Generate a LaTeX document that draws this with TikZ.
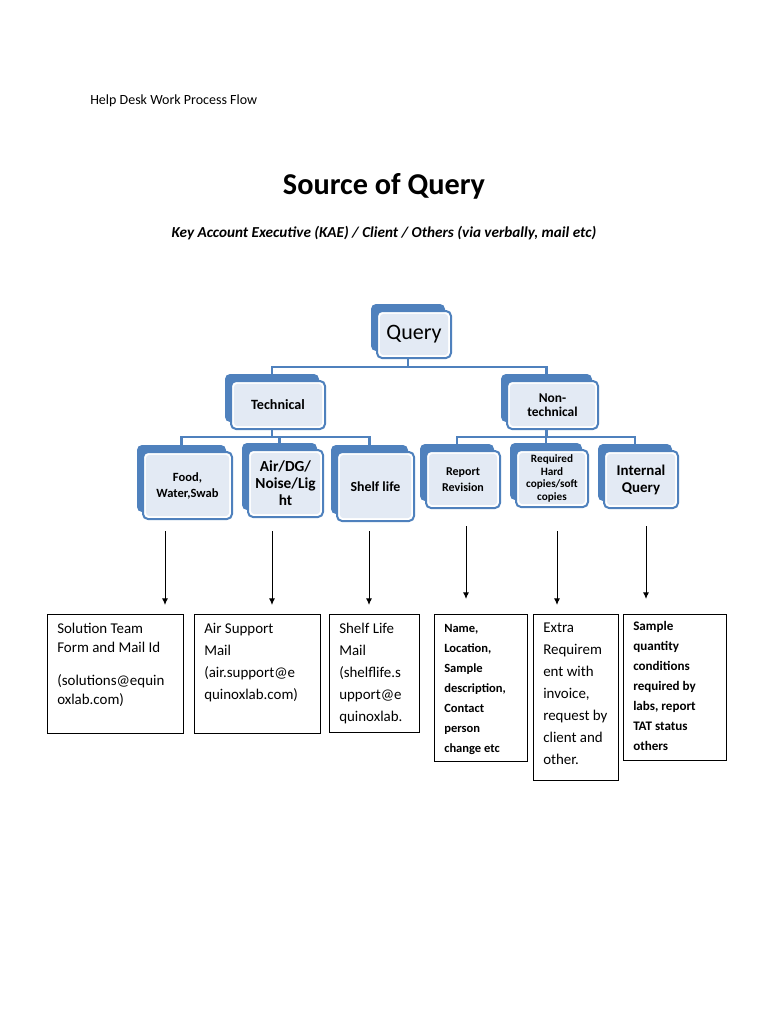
\documentclass[tikz,border=0pt]{standalone}
\usepackage{fontspec}
\setmainfont{Carlito}
\usetikzlibrary{arrows.meta,calc}
\definecolor{qblue}{HTML}{4F81BD}
\definecolor{qlight}{HTML}{E3EAF4}
\newcommand{\fs}[2]{\fontsize{#1}{#2}\selectfont}
\tikzset{
  backbox/.style={fill=qblue, rounded corners=3.75pt, inner sep=0pt, draw=none},
  frontbox/.style={draw=qblue, line width=1.5pt, rounded corners=3.75pt, fill=white,
    inner sep=1pt, align=center,
    path picture={\fill[qlight, rounded corners=2.5pt]
      ([shift={(2.2pt,-2.2pt)}]path picture bounding box.north west) rectangle
      ([shift={(-2.2pt,2.2pt)}]path picture bounding box.south east);}},
  conn/.style={draw=qblue, line width=1.6pt},
  arr/.style={-{Latex[length=5pt,width=4.5pt]}, line width=0.75pt, draw=black},
  tbox/.style={draw=black, line width=0.75pt, inner sep=0pt, anchor=north west},
  ttext/.style={anchor=north west, inner sep=0pt, align=left},
}
\newcommand{\qbox}[7]{%
  \node[backbox, minimum width=#4*0.75pt, minimum height=#5*0.75pt] (#1b) at (#2-6,#3-7) {};
  \node[frontbox, minimum width=#4*0.75pt, minimum height=#5*0.75pt, font=#6] (#1) at (#2,#3) {#7};
}
\begin{document}
\begin{tikzpicture}[x=0.75pt, y=-0.75pt]
\fill[white] (0,0) rectangle (768,1024);
\useasboundingbox (0,0) rectangle (768,1024);

% headings
\node[anchor=west, inner sep=0pt, font=\fs{10.5}{12}] (hdr) at (90,101) {Help Desk Work Process Flow};
\node[inner sep=0pt, font=\bfseries\fs{22.7}{26}] (title) at (384,186) {Source of Query};
\node[inner sep=0pt, font=\bfseries\itshape\fs{11.4}{13}] (sub) at (384,233) {Key Account Executive (KAE) / Client / Others (via verbally, mail etc)};

% hierarchy boxes
\qbox{q}{414}{334.5}{74}{47}{\mdseries\fs{16.5}{20}}{Query}
\qbox{tech}{278}{405}{94}{48}{\bfseries\fs{10.6}{12}}{Technical}
\qbox{ntech}{552.5}{405}{91}{48}{\bfseries\fs{10.1}{10.5}}{Non-\\technical}
\qbox{food}{187.5}{485.5}{89}{67}{\bfseries\fs{9.4}{12}}{Food,\\Water,Swab}
\qbox{air}{285.5}{483.5}{75}{67}{\bfseries\fs{11.5}{12.75}}{Air/DG/\\Noise/Lig\\ht}
\qbox{shelf}{375.5}{486.5}{77}{69}{\bfseries\fs{10.4}{12}}{Shelf life}
\qbox{rep}{463}{479.5}{74}{57}{\bfseries\fs{9}{12}}{Report\\Revision}
\qbox{req}{552}{478.5}{72}{57}{\bfseries\fs{8.4}{9.4}}{Required\\Hard\\copies/soft\\copies}
\qbox{int}{641}{479.5}{74}{57}{\bfseries\fs{11.2}{12.75}}{Internal\\Query}

% connectors
\coordinate (bar0) at (0,367);
\coordinate (bar1) at (0,437);
\draw[conn] (qb.south |- q.south) -- (qb.south |- bar0);
\draw[conn] (techb.north) |- (ntechb.north |- bar0) -- (ntechb.north);
\draw[conn] (techb.south |- tech.south) -- (techb.south |- bar1);
\draw[conn] (foodb.north) |- (shelfb.north |- bar1) -- (shelfb.north);
\draw[conn] (airb.north) -- (airb.north |- bar1);
\draw[conn] (ntechb.south |- ntech.south) -- (ntechb.south |- bar1);
\draw[conn] (repb.north) |- (intb.north |- bar1) -- (intb.north);
\draw[conn] (reqb.north) -- (reqb.north |- bar1);

% result boxes
\node[tbox, minimum width=102pt, minimum height=89.25pt] (sol) at (47,614) {};
\node[tbox, minimum width=94.5pt, minimum height=89.25pt] (airm) at (194,614) {};
\node[tbox, minimum width=67.5pt, minimum height=88.5pt] (shm) at (329,614) {};
\node[tbox, minimum width=69.75pt, minimum height=110.25pt] (nm) at (434,614) {};
\node[tbox, minimum width=63.75pt, minimum height=124.5pt] (ex) at (533,614) {};
\node[tbox, minimum width=77.25pt, minimum height=109.5pt] (smp) at (623,614) {};

\node[ttext, font=\fs{11.2}{14.25}] (solt) at (57,623) {Solution Team\\Form and Mail Id\\[10.5pt](solutions@equin\\oxlab.com)};
\node[ttext, font=\fs{11.2}{16.5}] (airt) at (204,623) {Air Support\\Mail\\(air.support@e\\quinoxlab.com)};
\node[ttext, font=\fs{11.2}{16.5}] (sht) at (339,623) {Shelf Life\\Mail\\(shelflife.s\\upport@e\\quinoxlab.};
\node[ttext, font=\bfseries\fs{9.4}{15}] (nmt) at (444,624) {Name,\\Location,\\Sample\\description,\\Contact\\person\\change etc};
\node[ttext, font=\fs{11.2}{16.5}] (ext) at (543,623) {Extra\\Requirem\\ent with\\invoice,\\request by\\client and\\other.};
\node[ttext, font=\bfseries\fs{9.8}{15}] (smpt) at (633,621) {Sample\\quantity\\conditions\\required by\\labs, report\\TAT status\\others};

% arrows
\coordinate (a1s) at (165,531); \coordinate (a1e) at (165,605);
\coordinate (a2s) at (272,531); \coordinate (a2e) at (272,605);
\coordinate (a3s) at (369,531); \coordinate (a3e) at (369,605);
\coordinate (a4s) at (466,526); \coordinate (a4e) at (466,599);
\coordinate (a5s) at (557,531); \coordinate (a5e) at (557,605);
\coordinate (a6s) at (646,526); \coordinate (a6e) at (646,599);
\foreach \i in {1,...,6} {\draw[arr] (a\i s) -- (a\i e);}
\end{tikzpicture}
\end{document}
